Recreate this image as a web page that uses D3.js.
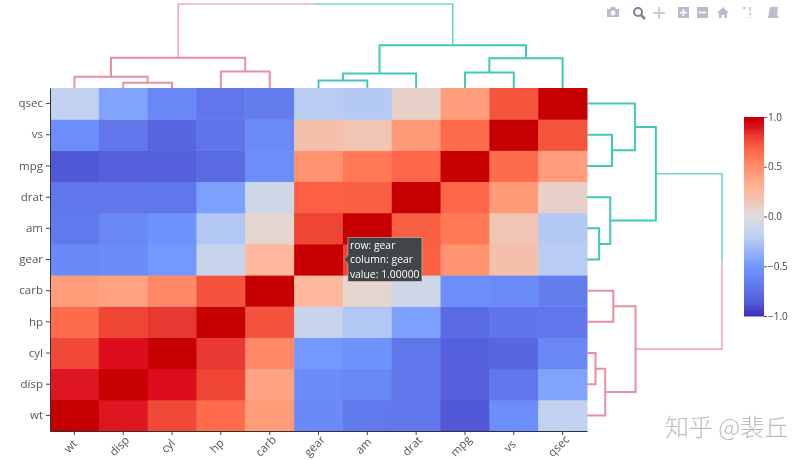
<!DOCTYPE html>
<html>
<head>
<meta charset="utf-8">
<script src="https://cdn.jsdelivr.net/npm/d3@7"></script>
<style>
    html, body { margin: 0; padding: 0; background: #fff; }
    svg { display: block; }
    text { font-family: "Open Sans", sans-serif; }
</style>
</head>
<body>
<svg width="812" height="460"></svg>
<script>
const labels = ["wt", "disp", "cyl", "hp", "carb", "gear", "am", "drat", "mpg", "vs", "qsec"];

// correlation rows, same order as labels
const wt =   [1.00, 0.89, 0.78, 0.66, 0.43, -0.58, -0.69, -0.71, -0.87, -0.55, -0.17];
const disp = [0.89, 1.00, 0.90, 0.79, 0.39, -0.56, -0.59, -0.71, -0.85, -0.71, -0.43];
const cyl =  [0.78, 0.90, 1.00, 0.83, 0.53, -0.49, -0.52, -0.70, -0.85, -0.81, -0.59];
const hp =   [0.66, 0.79, 0.83, 1.00, 0.75, -0.13, -0.24, -0.45, -0.78, -0.72, -0.71];
const carb = [0.43, 0.39, 0.53, 0.75, 1.00, 0.27, 0.06, -0.09, -0.55, -0.57, -0.66];
const gear = [-0.58, -0.56, -0.49, -0.13, 0.27, 1.00, 0.79, 0.70, 0.48, 0.21, -0.21];
const am =   [-0.69, -0.59, -0.52, -0.24, 0.06, 0.79, 1.00, 0.71, 0.60, 0.17, -0.23];
const drat = [-0.71, -0.71, -0.70, -0.45, -0.09, 0.70, 0.71, 1.00, 0.68, 0.44, 0.09];
const mpg =  [-0.87, -0.85, -0.85, -0.78, -0.55, 0.48, 0.60, 0.68, 1.00, 0.66, 0.42];
const vs =   [-0.55, -0.71, -0.81, -0.72, -0.57, 0.21, 0.17, 0.44, 0.66, 1.00, 0.74];
const qsec = [-0.17, -0.43, -0.59, -0.71, -0.66, -0.21, -0.23, 0.09, 0.42, 0.74, 1.00];
const rows = [wt, disp, cyl, hp, carb, gear, am, drat, mpg, vs, qsec];

// dendrogram merges, n0 n1 ... point back at earlier merges
const mergeLeft =   ["disp", "wt", "hp", "n1", "gear", "n4", "mpg", "n6", "n5", "n3"];
const mergeRight =  ["cyl", "n0", "carb", "n2", "am", "drat", "vs", "qsec", "n7", "n8"];
const mergeHeight = [0.063, 0.135, 0.195, 0.36, 0.09, 0.172, 0.185, 0.355, 0.51, 1.0];
const pinkLeaves = ["wt", "disp", "cyl", "hp", "carb"];

const colorStops = [-1, -0.85, -0.5, -0.2, 0, 0.3, 0.5, 0.66, 0.75, 0.85, 0.9, 1];
const colorValues = ["#3a2db8", "#5560dc", "#7096ff", "#bccff2", "#dddddd", "#ffb395", "#ff8f6c", "#ff6c4b", "#f5523c", "#e4302e", "#dc0c1e", "#c60000"];
const colorTicks = [-1, -0.5, 0, 0.5, 1];

const svg = d3.select("svg");
svg.append("defs").append("filter").attr("id", "soft")
    .append("feGaussianBlur").attr("stdDeviation", 0.55);
const chart = svg.append("g").attr("filter", "url(#soft)");

const x = d3.scaleBand().domain(labels).range([50, 587]);
const y = d3.scaleBand().domain(labels).range([431, 88]);
const color = d3.scaleLinear().domain(colorStops).range(colorValues);

// heatmap
rows.forEach((row, r) => {
    chart.append("g").selectAll("rect")
        .data(row)
        .join("rect")
        .attr("x", (d, i) => x(labels[i]))
        .attr("y", y(labels[r]))
        .attr("width", x.bandwidth() + 0.5)
        .attr("height", y.bandwidth() + 0.5)
        .attr("fill", d => color(d));
});

// axes
const xAxis = chart.append("g")
    .attr("transform", "translate(0,431)")
    .call(d3.axisBottom(x).tickSizeInner(4).tickSizeOuter(0));
xAxis.selectAll("text")
    .attr("transform", "translate(-4,15) rotate(-45)")
    .attr("y", 0).attr("dy", "0.35em")
    .attr("text-anchor", "middle");

const yAxis = chart.append("g")
    .attr("transform", "translate(50,0)")
    .call(d3.axisLeft(y).tickSizeInner(4).tickSizeOuter(0));

[xAxis, yAxis].forEach(a => {
    a.selectAll("text").attr("font-size", 11.5).attr("fill", "#555")
        .style("font-family", '"Open Sans", sans-serif');
    a.select(".domain").attr("stroke", "#333");
    a.selectAll("line").attr("stroke", "#444");
});

// dendrograms, same tree on both sides
function leafCenter(scale, name) {
    return scale(name) + scale.bandwidth() / 2;
}

function drawTree(posScale, heightScale, horizontal) {
    const nodes = {};
    labels.forEach(l => { nodes[l] = { pos: leafCenter(posScale, l), h: 0, leaves: [l] }; });

    const pt = (p, h) => horizontal ? [heightScale(h), p] : [p, heightScale(h)];
    const line = d3.line();

    mergeHeight.forEach((h, i) => {
        const a = nodes[mergeLeft[i]];
        const b = nodes[mergeRight[i]];
        const node = { pos: (a.pos + b.pos) / 2, h: h, leaves: a.leaves.concat(b.leaves) };
        nodes["n" + i] = node;

        const isRoot = i === mergeHeight.length - 1;
        const sideColor = n => pinkLeaves.includes(n.leaves[0]) ? "#e88fa0" : "#3fc9b8";

        if (isRoot) {
            // root is drawn thinner and changes colour half way along
            [a, b].forEach(n => {
                chart.append("path")
                    .attr("d", line([pt(n.pos, n.h), pt(n.pos, h), pt(node.pos, h)]))
                    .attr("fill", "none")
                    .attr("stroke", sideColor(n))
                    .attr("stroke-width", 1.6)
                    .attr("stroke-opacity", 0.75);
            });
        } else {
            chart.append("path")
                .attr("d", line([pt(a.pos, a.h), pt(a.pos, h), pt(b.pos, h), pt(b.pos, b.h)]))
                .attr("fill", "none")
                .attr("stroke", sideColor(node))
                .attr("stroke-width", 2);
        }
    });
}

drawTree(x, d3.scaleLinear().domain([0, 1]).range([88, 4]), false);
drawTree(y, d3.scaleLinear().domain([0, 1]).range([587, 722]), true);

// colorbar
const barScale = d3.scaleLinear().domain([-1, 1]).range([316, 117]);
const barSteps = d3.range(316, 117, -1);
chart.append("g").selectAll("rect")
    .data(barSteps)
    .join("rect")
    .attr("x", 744)
    .attr("y", d => d - 1)
    .attr("width", 20)
    .attr("height", 1.5)
    .attr("fill", d => color(barScale.invert(d - 0.5)));
const barAxis = chart.append("g")
    .attr("transform", "translate(764,0)")
    .call(d3.axisRight(barScale).tickValues(colorTicks).tickFormat(d3.format(".1f")).tickSize(3));
barAxis.select(".domain").remove();
barAxis.selectAll("line").attr("stroke", "#555");
barAxis.selectAll("text").attr("font-size", 10).attr("fill", "#444").attr("x", 4)
    .style("font-family", '"Open Sans", sans-serif');

// hover label on gear / gear
const hoverIndex = labels.indexOf("gear");
const hoverX = x("gear") + x.bandwidth();
const hoverY = leafCenter(y, "gear");
const hover = chart.append("g").attr("transform", "translate(" + hoverX + "," + hoverY + ")");
hover.append("path")
    .attr("d", "M1,0 L5,-4 V-22 H79 V22 H5 V4 Z")
    .attr("fill", "#3f4446")
    .attr("stroke", "#ddd")
    .attr("stroke-width", 0.5);
const hoverLines = ["row: gear", "column: gear", "value: " + d3.format(".5f")(rows[hoverIndex][hoverIndex])];
hover.selectAll("text")
    .data(hoverLines)
    .join("text")
    .attr("x", 7)
    .attr("y", (d, i) => -11 + i * 14.5)
    .attr("font-size", 10.4)
    .attr("fill", "#fff")
    .text(d => d);

// modebar
const bar = svg.append("g").attr("filter", "url(#soft)");
const light = "#b9bccb";
bar.append("path").attr("fill", light)
    .attr("d", "M607,9 h3 l1,-2 h4 l1,2 h3 v8 h-12 Z");
bar.append("circle").attr("cx", 613).attr("cy", 13).attr("r", 2.4).attr("fill", "#fff");
bar.append("circle").attr("cx", 638).attr("cy", 12).attr("r", 4).attr("fill", "none").attr("stroke", "#7e8399").attr("stroke-width", 2);
bar.append("path").attr("d", "M641,15 L645,19").attr("stroke", "#7e8399").attr("stroke-width", 2.5);
bar.append("path").attr("d", "M653,13 H665 M659,7 V19").attr("stroke", light).attr("stroke-width", 1.4);
bar.append("rect").attr("x", 678).attr("y", 7).attr("width", 11).attr("height", 11).attr("fill", light);
bar.append("path").attr("d", "M680,12.5 H687 M683.5,9 V16").attr("stroke", "#fff").attr("stroke-width", 1.6);
bar.append("rect").attr("x", 697).attr("y", 7).attr("width", 11).attr("height", 11).attr("fill", light);
bar.append("path").attr("d", "M699,12.5 H706").attr("stroke", "#fff").attr("stroke-width", 1.6);
bar.append("path").attr("fill", light).attr("d", "M717,13 L723,7 L729,13 H727 V18 H724.5 V15 H721.5 V18 H719 V13 Z");
bar.append("path").attr("d", "M743,8 H746 M750,7 V11 M750,13 V15 M750,17 V18").attr("stroke", light).attr("stroke-width", 1.3);
bar.append("path").attr("fill", light).attr("d", "M770,7 H778 L777,15 L779,18 H768 Z");

// watermark
svg.append("text")
    .attr("x", 665)
    .attr("y", 436)
    .attr("font-size", 24)
    .attr("fill", "#bbb")
    .style("font-family", '"Noto Sans CJK SC"')
    .style("font-weight", 300)
    .text("知乎 @裴丘");
</script>
</body>
</html>
